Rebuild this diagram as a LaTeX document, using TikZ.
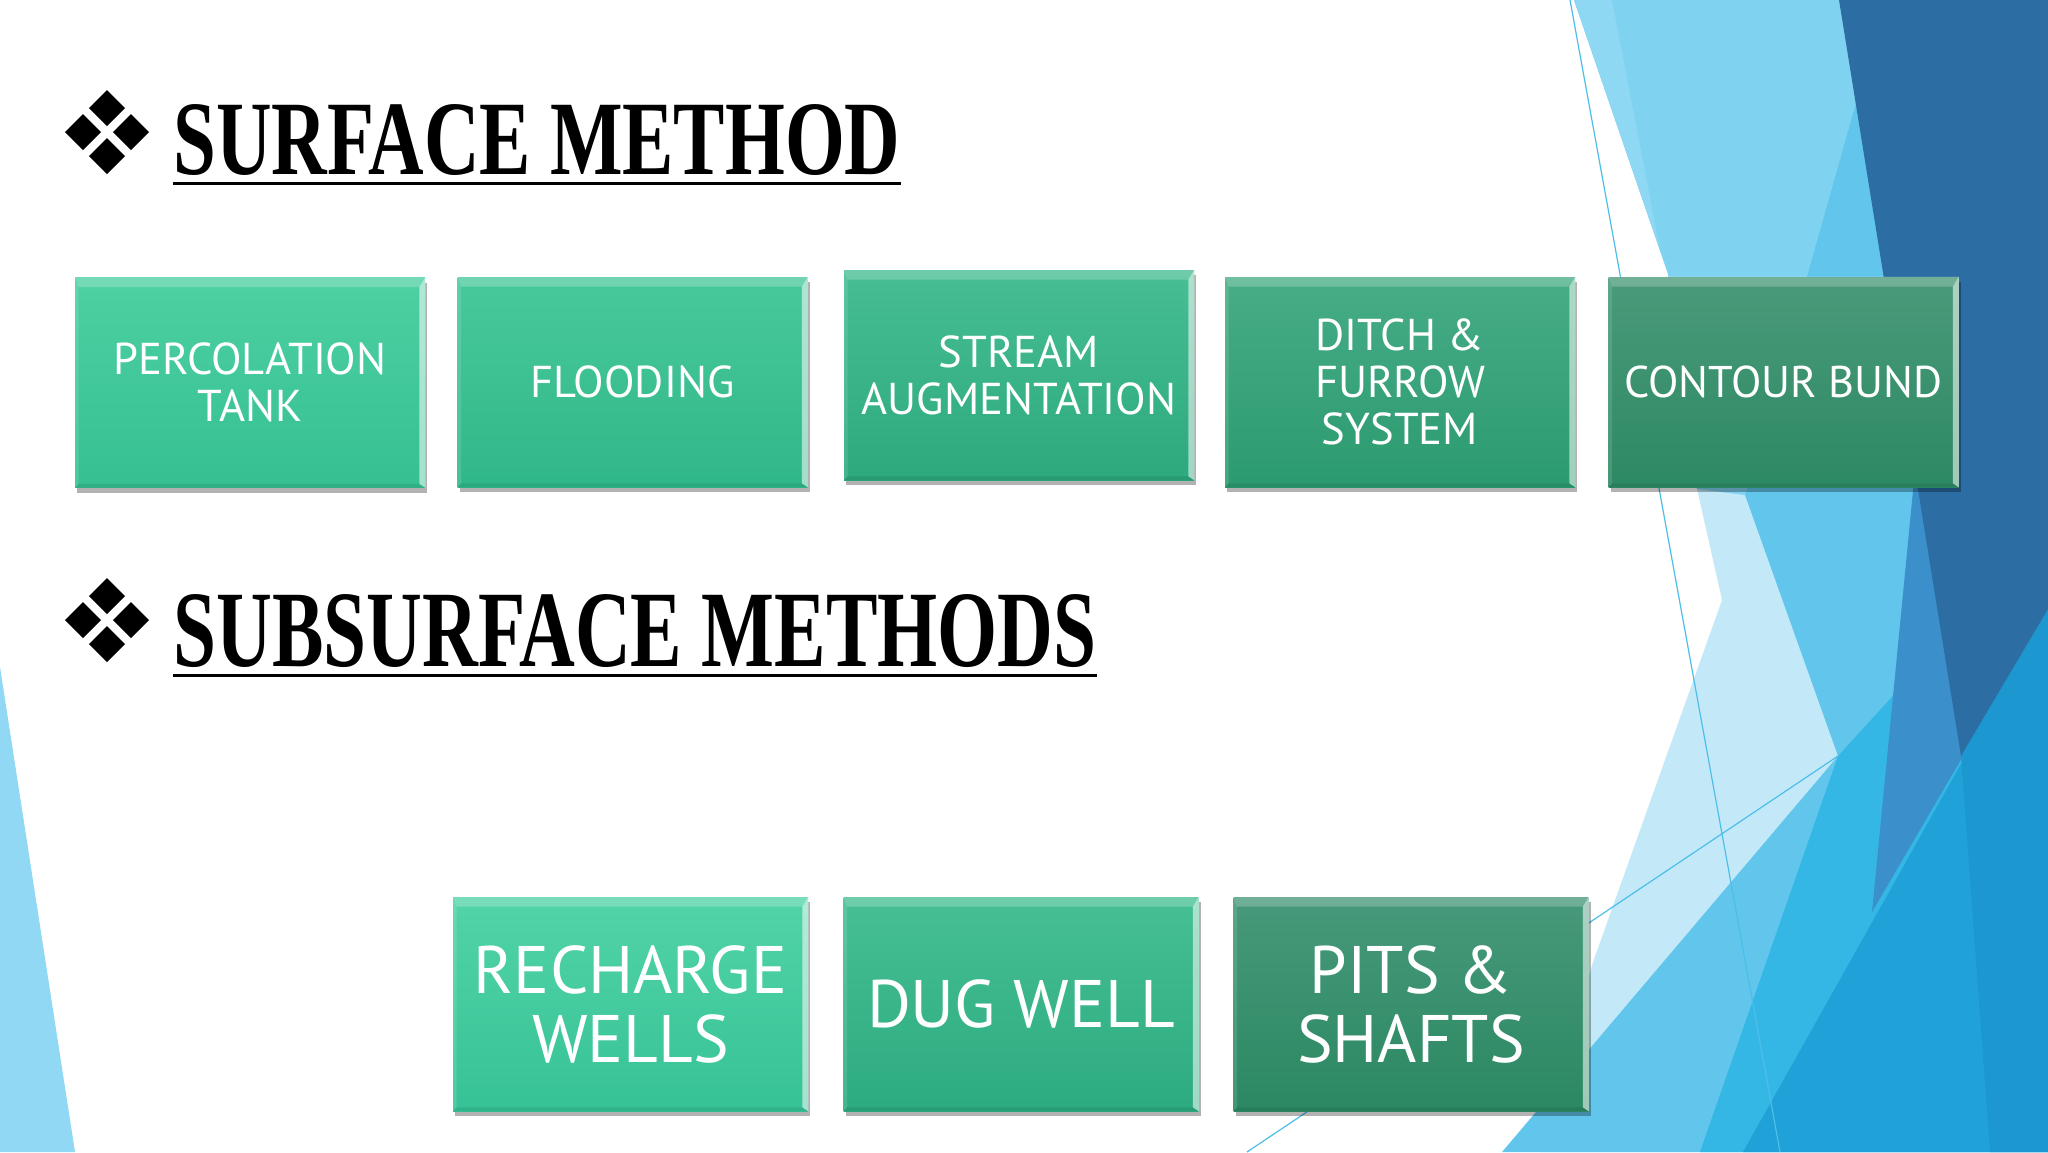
\documentclass[tikz,border=0pt]{standalone}
\usepackage{fontspec}
\usepackage{graphicx}
\newfontfamily\boxfont{PT Sans}
\newfontfamily\titlefont{Liberation Serif}
\usetikzlibrary{calc,shadows}
\definecolor{cLightest}{HTML}{C3E9F8}
\definecolor{cLight}{HTML}{80D2F1}
\definecolor{cStrip}{HTML}{8ED8F3}
\definecolor{cMid}{HTML}{62C6EC}
\definecolor{cCyan}{HTML}{35B7E5}
\definecolor{cMedDark}{HTML}{3B90CB}
\definecolor{cBright}{HTML}{20A2D9}
\definecolor{cBrightB}{HTML}{1D97CF}
\definecolor{cDark}{HTML}{2C6DA4}
\definecolor{cSliver}{HTML}{90D8F3}
\definecolor{cLine}{HTML}{4DBEE9}
\definecolor{gA1}{HTML}{4DD0A2}\definecolor{gA2}{HTML}{36C092}
\definecolor{gB1}{HTML}{49C99B}\definecolor{gB2}{HTML}{30B789}
\definecolor{gC1}{HTML}{47BE93}\definecolor{gC2}{HTML}{2DA97E}
\definecolor{gD1}{HTML}{47AD86}\definecolor{gD2}{HTML}{2C9A70}
\definecolor{gE1}{HTML}{4A9A7A}\definecolor{gE2}{HTML}{2D8963}
\definecolor{gF1}{HTML}{52D4A7}\definecolor{gF2}{HTML}{36C296}
\definecolor{gG1}{HTML}{46BF94}\definecolor{gG2}{HTML}{2DAB80}
\definecolor{gH1}{HTML}{47997A}\definecolor{gH2}{HTML}{2B8862}
\newcommand{\bevelbox}[1]{%
  \fill[white,opacity=0.22] (#1.north west) -- (#1.north east) -- ([shift={(-3pt,-5pt)}]#1.north east) -- ([shift={(2pt,-5pt)}]#1.north west) -- cycle;
  \fill[white,opacity=0.55] (#1.north east) -- (#1.south east) -- ([shift={(-3pt,2pt)}]#1.south east) -- ([shift={(-3pt,-5pt)}]#1.north east) -- cycle;
  \fill[white,opacity=0.12] (#1.north west) -- ([shift={(2pt,-5pt)}]#1.north west) -- ([shift={(2pt,2pt)}]#1.south west) -- (#1.south west) -- cycle;
  \fill[black,opacity=0.08] (#1.south west) -- ([shift={(2pt,2pt)}]#1.south west) -- ([shift={(-3pt,2pt)}]#1.south east) -- (#1.south east) -- cycle;
}
\newcommand{\diamondbullet}[1]{%
  \foreach \dx/\dy in {0/-24,-24/0,24/0,0/24}
    \fill[black] ($(#1)+(\dx,\dy)+(0,-18)$) -- ++(18,18) -- ++(-18,18) -- ++(-18,-18) -- cycle;
}
\begin{document}
\begin{tikzpicture}[x=0.5pt,y=-0.5pt,
  gbox/.style n args={2}{top color=#1, bottom color=#2, draw=none, text=white, align=center,
    inner sep=0pt, minimum width=175pt, minimum height=105pt,
    drop shadow={shadow xshift=1pt, shadow yshift=-2.5pt, opacity=0.3, fill=black}},
  smalltxt/.style={font=\boxfont\fontsize{22.3pt}{23.5pt}\selectfont},
  midtxt/.style={font=\boxfont\fontsize{22.2pt}{25pt}\selectfont},
  bigtxt/.style={font=\boxfont\fontsize{33.6pt}{34.5pt}\selectfont},
  lowbox/.style={minimum width=177.5pt, minimum height=107pt},
  ttl/.style={anchor=base west, inner sep=0pt}]
\useasboundingbox (0,0) rectangle (2048,1152);
\fill[white] (0,0) rectangle (2048,1152);
% background facets
\fill[cSliver] (0,667) -- (75,1152) -- (0,1152) -- cycle;
\fill[cLightest] (1574,0) -- (1668,274) -- (1697,489) -- (1722,600) -- (1593,962) -- (1540,1152) -- (2048,1152) -- (2048,0) -- cycle;
\fill[cLight] (1574,0) -- (1885,0) -- (1745,495) -- (1697,489) -- (1668,274) -- cycle;
\fill[cStrip] (1574,0) -- (1612,0) -- (1660,250) -- cycle;
\fill[cMid] (1885,0) -- (2048,0) -- (2048,1152) -- (1502,1152) -- (1838,756) -- (1745,495) -- cycle;
\fill[cCyan] (1838,756) -- (1942,642) -- (2048,609) -- (2048,1152) -- (1700,1152) -- cycle;
\fill[cMedDark] (1915,470) -- (1963,756) -- (1872,912) -- cycle;
\fill[cBright] (2048,609) -- (2048,1152) -- (1743,1152) -- cycle;
\fill[cBrightB] (1961,756) -- (2048,609) -- (2048,1152) -- (1990,1152) -- cycle;
\fill[cDark] (1839,0) -- (2048,0) -- (2048,609) -- (1961,756) -- cycle;
\draw[cLine, line width=0.6pt] (1570,0) -- (1780,1152);
\draw[cLine, line width=0.6pt] (1247,1152) -- (1838,756);
% titles
\coordinate (bul1) at (107,132);
\coordinate (bul2) at (107,620);
\diamondbullet{bul1}
\diamondbullet{bul2}
\node[ttl] (t1) at (173,174) {\resizebox{363.5pt}{35pt}{\titlefont\bfseries SURFACE METHOD}};
\node[ttl] (t2) at (173,666) {\resizebox{461.5pt}{36pt}{\titlefont\bfseries SUBSURFACE METHODS}};
\draw[line width=1.6pt] ([yshift=-4.8pt]t1.base west) -- ([yshift=-4.8pt]t1.base east);
\draw[line width=1.6pt] ([yshift=-4.8pt]t2.base west) -- ([yshift=-4.8pt]t2.base east);
% surface boxes
\node[gbox={gA1}{gA2}, smalltxt] (b1) at (250,382.5) {PERCOLATION\\TANK};
\node[gbox={gB1}{gB2}, smalltxt] (b2) at (632.5,382) {FLOODING};
\node[gbox={gC1}{gC2}, smalltxt] (b3) at (1019,375) {STREAM\\AUGMENTATION};
\node[gbox={gD1}{gD2}, smalltxt] (b4) at (1400,382) {DITCH \&\\FURROW\\SYSTEM};
\node[gbox={gE1}{gE2}, midtxt] (b5) at (1783.5,382) {CONTOUR BUND};
% subsurface boxes
\node[gbox={gF1}{gF2}, lowbox, bigtxt] (b6) at (630.5,1004) {RECHARGE\\WELLS};
\node[gbox={gG1}{gG2}, lowbox, bigtxt] (b7) at (1021,1004) {DUG WELL};
\node[gbox={gH1}{gH2}, lowbox, bigtxt] (b8) at (1411,1004) {PITS \&\\SHAFTS};
\foreach \b in {b1,b2,b3,b4,b5,b6,b7,b8} {\bevelbox{\b}}
\end{tikzpicture}
\end{document}
